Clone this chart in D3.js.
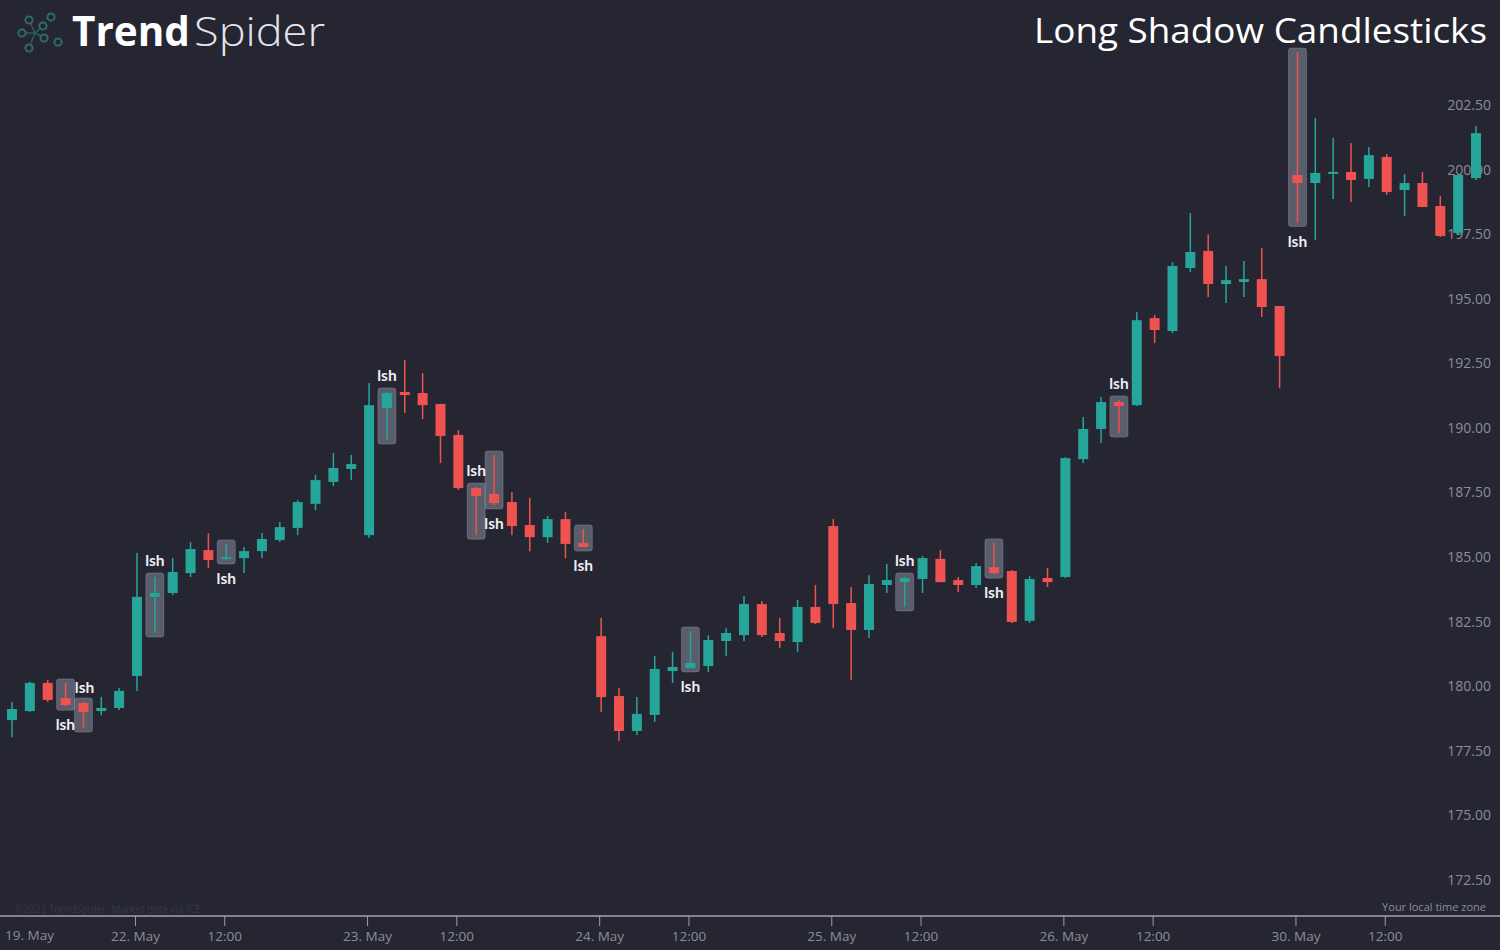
<!DOCTYPE html>
<html>
<head>
<meta charset="utf-8">
<script src="https://cdn.jsdelivr.net/npm/d3@7"></script>
<style>
  html, body { margin: 0; padding: 0; background: #252632; }
  svg { display: block; }
</style>
</head>
<body>
<svg id="chart" width="1500" height="950"></svg>
<script>
// ---- Data (30-minute candles, 19 May – 30 May) ----
const openVals = [
  178.69,179.04,180.13,179.54,179.35,179.04,179.16,180.40,183.46,183.61,
  184.38,185.27,184.93,184.96,185.23,185.66,186.13,187.06,187.91,188.41,
  185.85,190.77,191.39,191.35,190.93,189.73,187.67,187.44,187.13,186.24,
  185.77,186.47,185.55,181.94,179.62,178.27,178.89,180.59,180.71,180.78,
  181.75,181.98,183.18,182.06,181.71,183.07,186.20,183.22,182.18,183.92,
  184.03,184.15,184.93,184.11,183.92,184.61,184.46,182.53,184.19,184.23,
  188.79,189.96,191.00,190.88,194.25,193.75,196.19,196.85,195.57,195.65,
  195.76,194.72,199.79,199.48,199.89,199.91,199.64,200.49,199.21,199.48,
  198.59,197.55,199.67
];
const highVals = [
  179.39,180.17,180.24,180.13,179.39,179.58,179.93,185.16,184.23,184.96,
  185.58,185.93,185.51,185.39,185.93,186.36,187.21,188.18,189.03,188.95,
  191.74,191.39,192.63,192.12,190.93,189.92,187.71,188.95,187.52,187.29,
  186.59,186.75,186.09,182.64,179.93,179.58,181.17,181.33,182.14,181.98,
  182.25,183.49,183.30,182.64,183.34,183.92,186.47,183.84,184.30,184.73,
  184.23,185.04,185.27,184.23,184.77,185.55,184.50,184.26,184.58,188.87,
  190.42,191.20,191.08,194.48,194.37,196.42,198.32,197.50,196.27,196.46,
  196.96,194.72,204.55,201.99,201.22,201.03,200.87,200.60,199.83,199.91,
  198.98,199.79,201.69
];
const lowVals = [
  178.03,179.00,179.39,179.23,178.38,178.87,179.08,179.82,182.06,183.53,
  184.23,184.58,184.89,184.38,184.96,185.58,185.85,186.82,187.75,187.98,
  185.74,189.53,190.58,190.34,188.64,187.60,185.85,187.02,185.85,185.23,
  185.55,184.96,185.39,179.00,177.88,178.11,178.62,180.13,180.71,180.55,
  181.17,181.75,181.91,181.48,181.33,182.41,182.25,180.24,181.87,183.61,
  183.07,183.61,184.03,183.65,183.80,184.34,182.45,182.45,183.84,184.19,
  188.64,189.42,189.80,190.85,193.29,193.67,196.03,195.07,194.84,195.07,
  194.29,191.54,197.95,197.27,198.86,198.75,199.33,199.02,198.20,198.55,
  197.39,197.47,199.60
];
const closeVals = [
  179.12,180.13,179.47,179.27,179.00,179.16,179.82,183.46,183.61,184.42,
  185.31,184.89,185.00,185.23,185.70,186.16,187.13,187.98,188.45,188.60,
  190.88,191.35,191.27,190.88,189.69,187.67,187.36,187.09,186.20,185.77,
  186.47,185.51,185.39,179.58,178.27,178.93,180.67,180.75,180.90,181.79,
  182.06,183.18,181.98,181.75,183.07,182.45,183.18,182.18,183.96,184.11,
  184.19,184.96,184.03,183.92,184.65,184.38,182.49,184.15,184.03,188.83,
  189.96,191.00,190.85,194.17,193.79,196.27,196.81,195.57,195.72,195.76,
  194.68,192.78,199.48,199.87,199.91,199.60,200.56,199.13,199.48,198.55,
  197.43,199.79,201.41
];
// Candles flagged as "Long Shadow" (lsh) and where their label sits
const lshIndex = [3, 4, 8, 12, 21, 26, 27, 32, 38, 50, 55, 62, 72];
const lshSide  = ["right","left","above","below","above","above","below","below","below","above","below","above","below"];
const lshText = "lsh";
// Time axis
const tickIndex  = [7, 12, 20, 25, 33, 38, 46, 51, 59, 64, 72, 77];
const tickLabels = ["22. May","12:00","23. May","12:00","24. May","12:00","25. May","12:00","26. May","12:00","30. May","12:00"];
const firstLabel = "19. May";
// Price axis
const priceTicks = [172.5,175,177.5,180,182.5,185,187.5,190,192.5,195,197.5,200,202.5];

const title = "Long Shadow Candlesticks";
const timezoneNote = "Your local time zone";
const watermark = "©2023 TrendSpider. Market data via ICE";

// ---- Drawing ----
const W = 1500, H = 950;
const svg = d3.select("#chart");
const GREEN = "#26a69a", RED = "#ef5350";
const AXIS_TXT = "#8c8d98";

svg.append("rect").attr("width", W).attr("height", H).attr("fill", "#252632");

const n = openVals.length;
const data = d3.range(n).map(i => ({i, o: openVals[i], h: highVals[i], l: lowVals[i], c: closeVals[i]}));

const x = d3.scaleLinear().domain([0, n - 1]).range([12, 1476]);
const y = d3.scaleLinear().domain([172.5, 202.5]).range([880, 105]);

// Price axis (drawn below candles)
const yAxis = d3.axisRight(y).tickValues(priceTicks).tickFormat(d => d.toFixed(2)).tickSize(0).tickPadding(0);
const yg = svg.append("g").attr("transform", "translate(1491,0)").call(yAxis);
yg.select(".domain").remove();
yg.selectAll("text")
  .attr("text-anchor", "end")
  .attr("fill", AXIS_TXT)
  .attr("font-family", "'Open Sans', sans-serif")
  .attr("font-size", 14);

// Time axis
const xAxis = d3.axisBottom(x).tickValues(tickIndex).tickFormat((d, k) => tickLabels[k]).tickSize(10).tickPadding(5);
const xg = svg.append("g").attr("transform", "translate(-2,916)").call(xAxis);
xg.select(".domain").remove();
xg.selectAll(".tick line").attr("stroke", "#9c9da8").attr("stroke-width", 1);
xg.selectAll("text")
  .attr("fill", AXIS_TXT)
  .attr("font-family", "'Open Sans', sans-serif")
  .attr("font-size", 13.5);
svg.append("line").attr("x1", 0).attr("x2", W).attr("y1", 916).attr("y2", 916)
  .attr("stroke", "#a4a5b0").attr("stroke-width", 1.6);
svg.append("text").attr("x", 5).attr("y", 940).text(firstLabel)
  .attr("fill", AXIS_TXT).attr("font-family", "'Open Sans', sans-serif").attr("font-size", 13.5);
svg.append("text").attr("x", 1486).attr("y", 911).attr("text-anchor", "end").text(timezoneNote)
  .attr("fill", "#8c8d98").attr("font-family", "'Open Sans', sans-serif").attr("font-size", 11);
svg.append("text").attr("x", 15).attr("y", 913).text(watermark)
  .attr("fill", "rgba(255,255,255,0.10)").attr("font-family", "'Open Sans', sans-serif").attr("font-size", 10);

// Long-shadow highlight boxes (under candles)
const PAD = 4;
const boxG = svg.append("g");
lshIndex.forEach((idx) => {
  const d = data[idx];
  boxG.append("rect")
    .attr("x", x(idx) - 9).attr("width", 18)
    .attr("y", y(d.h) - PAD).attr("height", y(d.l) - y(d.h) + 2 * PAD)
    .attr("rx", 2.5)
    .attr("fill", "rgba(135,138,155,0.55)")
    .attr("stroke", "rgba(160,163,180,0.35)").attr("stroke-width", 1);
});

// Candles
const cg = svg.append("g");
const candle = cg.selectAll("g.c").data(data).join("g").attr("class", "c");
candle.append("line")
  .attr("x1", d => x(d.i)).attr("x2", d => x(d.i))
  .attr("y1", d => y(d.h)).attr("y2", d => y(d.l))
  .attr("stroke", d => d.c >= d.o ? GREEN : RED).attr("stroke-width", 1.5);
candle.append("rect")
  .attr("x", d => x(d.i) - 5).attr("width", 10)
  .attr("y", d => y(Math.max(d.o, d.c)))
  .attr("height", d => Math.max(2, Math.abs(y(d.o) - y(d.c))))
  .attr("fill", d => d.c >= d.o ? GREEN : RED);

// Labels
const labG = svg.append("g");
lshIndex.forEach((idx, k) => {
  const d = data[idx];
  const top = y(d.h) - PAD, bot = y(d.l) + PAD;
  let tx = x(idx), ty;
  const side = lshSide[k];
  if (side === "above") ty = top - 13;
  else if (side === "below") ty = bot + 14;
  else if (side === "right") { tx = x(idx) + 19; ty = top + 8; }
  else { tx = x(idx) - 18; ty = bot - 8; }
  labG.append("text").attr("x", tx).attr("y", ty)
    .attr("text-anchor", "middle").attr("dominant-baseline", "central")
    .attr("fill", "#eeeef3").attr("font-family", "Lato, 'Open Sans', sans-serif")
    .attr("font-weight", 700).attr("font-size", 15.5).text(lshText);
});

// Title
svg.append("text").attr("x", 1487).attr("y", 43).attr("text-anchor", "end")
  .attr("fill", "#ffffff").attr("font-family", "'Open Sans', sans-serif").attr("font-size", 35)
  .attr("textLength", 453).attr("lengthAdjust", "spacingAndGlyphs").text(title);

// Logo
const logo = svg.append("g");
const nodes = [[29,20],[51,17],[43,26],[22,33],[44,38],[58,42],[29,48]];
const hub = [35,33];
[0,2,3,4,6].forEach(k => logo.append("line")
  .attr("x1", hub[0]).attr("y1", hub[1]).attr("x2", nodes[k][0]).attr("y2", nodes[k][1])
  .attr("stroke", "#285f5a").attr("stroke-width", 1.5));
nodes.forEach(p => logo.append("circle").attr("cx", p[0]).attr("cy", p[1]).attr("r", 3.6)
  .attr("fill", "#252632").attr("stroke", "#2d6d66").attr("stroke-width", 2));
logo.append("text").attr("x", 72).attr("y", 46).attr("fill", "#ffffff")
  .attr("font-family", "'Open Sans', sans-serif").attr("font-weight", 700).attr("font-size", 41)
  .attr("textLength", 118).attr("lengthAdjust", "spacingAndGlyphs").text("Trend");
logo.append("text").attr("x", 194).attr("y", 46).attr("fill", "#e4e4ea")
  .attr("font-family", "'Open Sans', sans-serif").attr("font-weight", 300).attr("font-size", 41)
  .attr("textLength", 131).attr("lengthAdjust", "spacingAndGlyphs").text("Spider");
</script>
</body>
</html>
